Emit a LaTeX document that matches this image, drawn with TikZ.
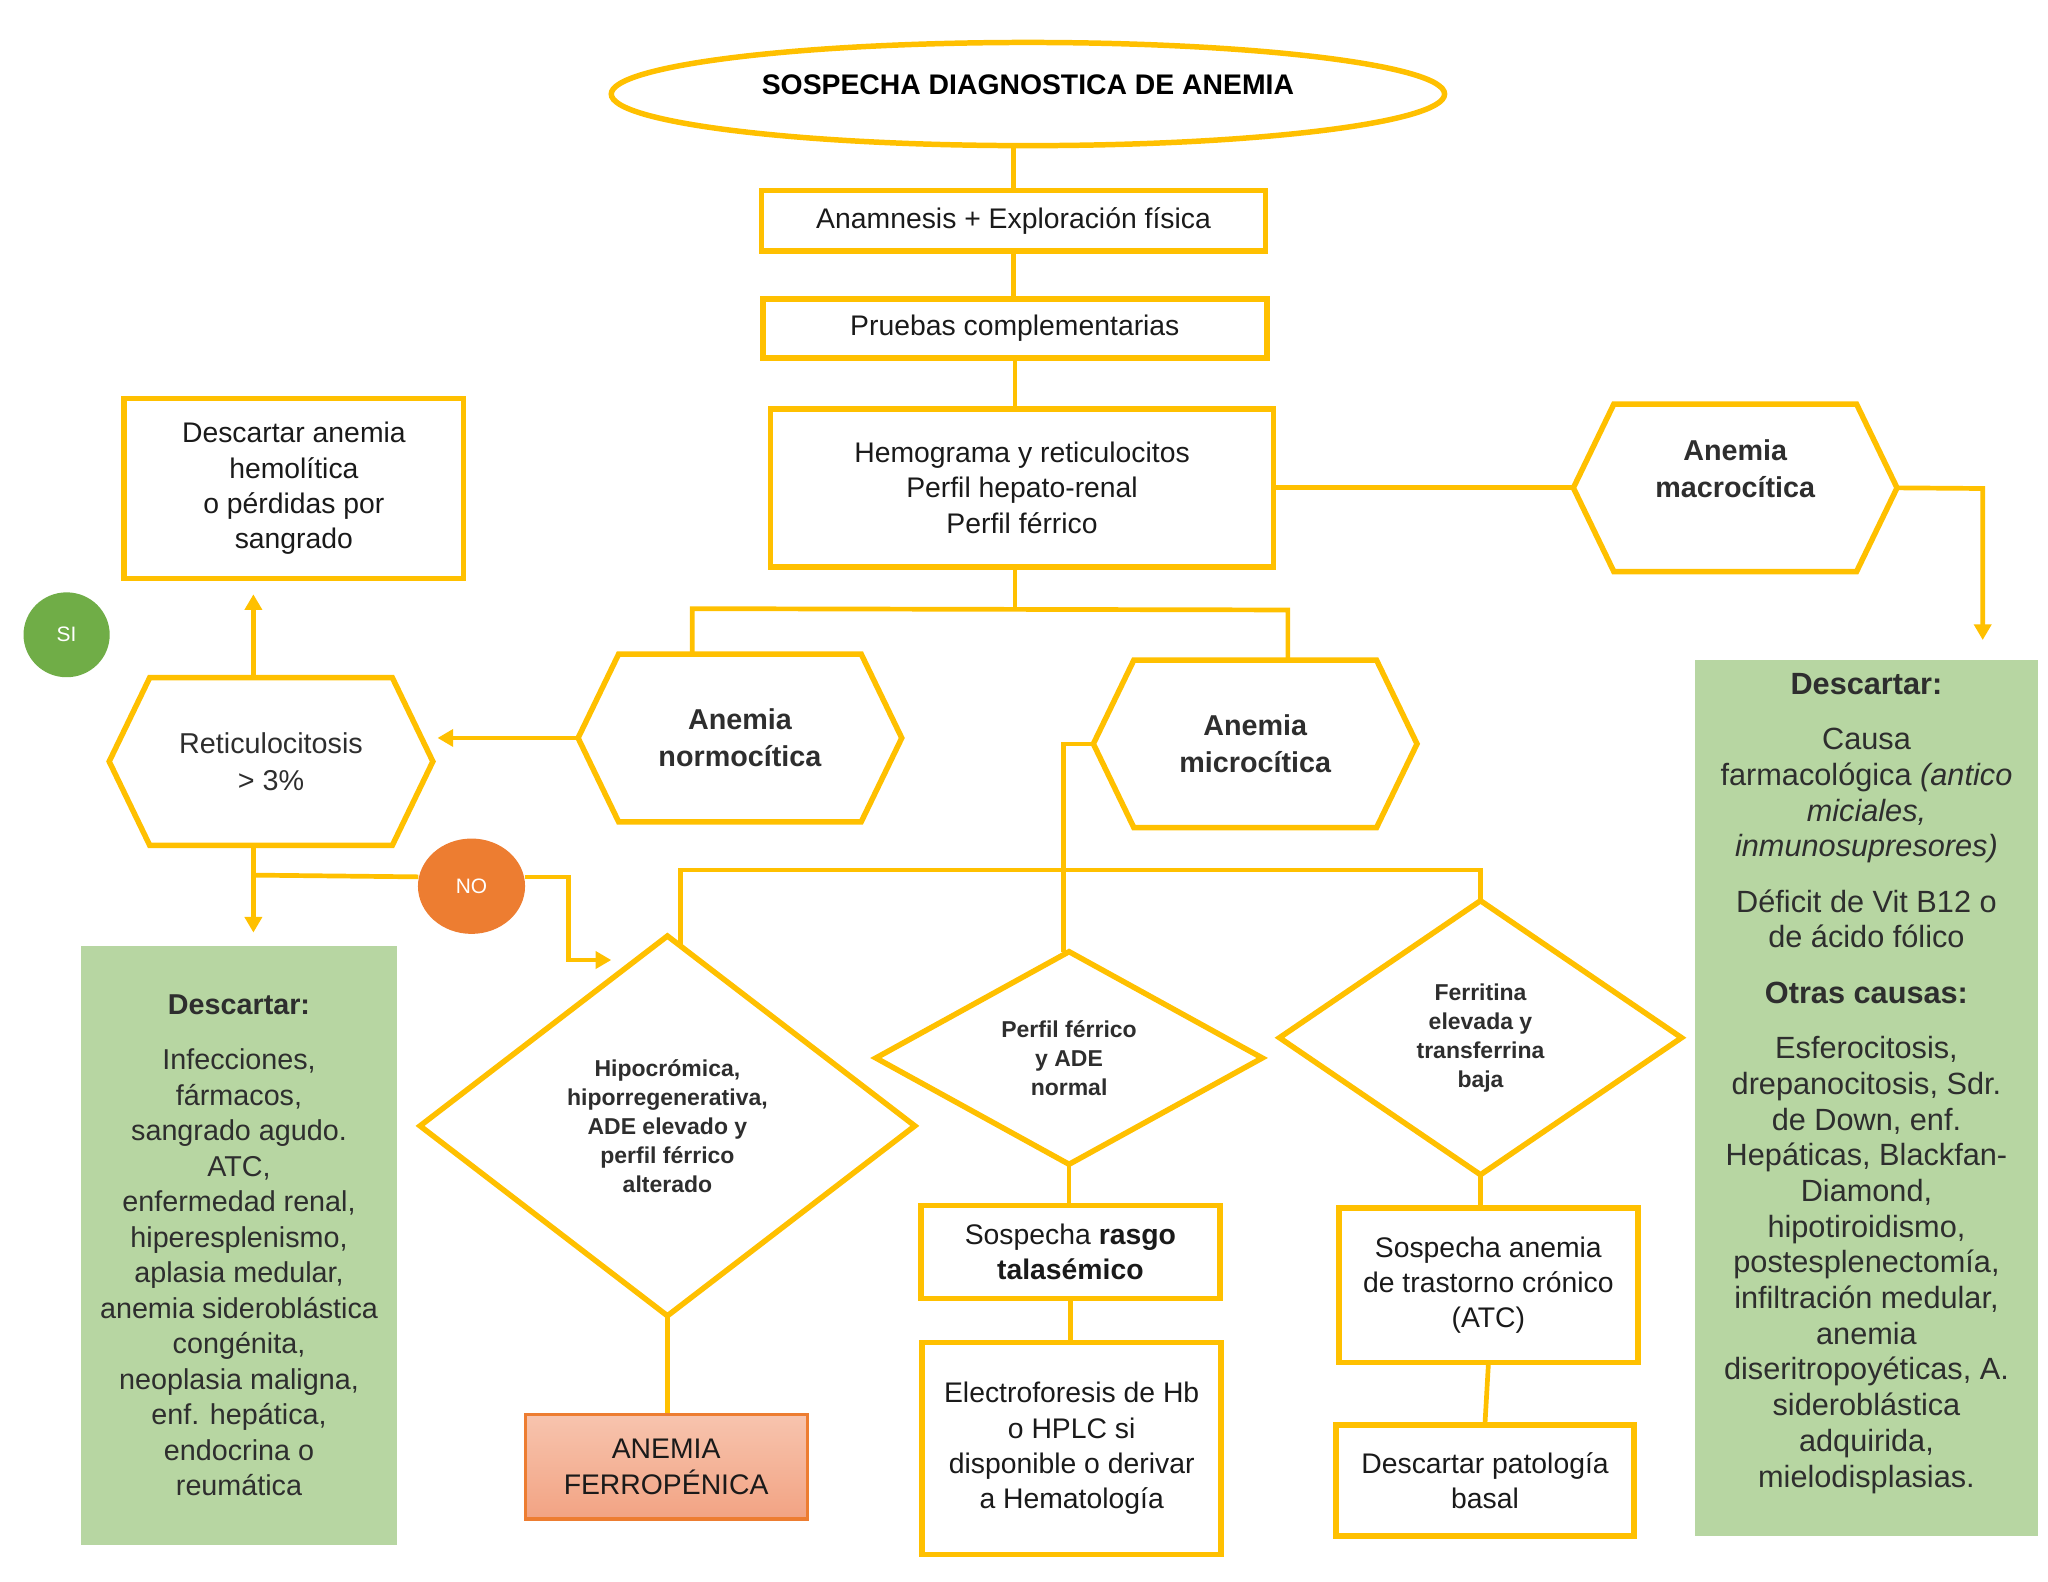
\documentclass[tikz,border=0pt]{standalone}
\usepackage{fontspec}
\setmainfont{Liberation Sans}
\usetikzlibrary{arrows.meta,calc,shapes.geometric}
\definecolor{gold}{HTML}{FFC000}
\definecolor{sigreen}{HTML}{70AD47}
\definecolor{noorange}{HTML}{ED7D31}
\definecolor{boxgreen}{HTML}{B7D6A2}
\definecolor{salmtop}{HTML}{F7C4AE}
\definecolor{salmbot}{HTML}{F2A383}
\definecolor{txtdark}{HTML}{1A1A1A}
\definecolor{txtgray}{HTML}{2E2E2E}
\newcommand{\fmain}{\fontsize{10.85pt}{13.5pt}\selectfont}
\newcommand{\fhex}{\fontsize{11pt}{14pt}\selectfont\bfseries}
\newcommand{\fdia}{\fontsize{8.8pt}{11.1pt}\selectfont\bfseries}
\newcommand{\fgl}{\fontsize{11pt}{13.58pt}\selectfont}
\newcommand{\fgr}{\fontsize{11.75pt}{13.67pt}\selectfont}
\newcommand{\fcirc}{\fontsize{8pt}{9pt}\selectfont}
\begin{document}
\begin{tikzpicture}[x=0.5pt,y=-0.5pt,
 conn/.style={draw=gold,line width=1.8pt},
 arr/.style={conn,-{Triangle[width=6.5pt,length=6pt]}},
 box/.style={draw=gold,line width=2.1pt,rectangle,inner sep=0pt,align=center,font=\fmain,text=txtdark},
 shapebox/.style={rectangle,inner sep=0pt,align=center},
 hexn/.style={shapebox,font=\fhex,text=txtgray,minimum width=123.5pt,minimum height=63.75pt},
 dian/.style={shapebox,font=\fdia,text=txtgray},
 hexline/.style={draw=gold,line width=2.1pt},
 greenbox/.style={rectangle,fill=boxgreen,inner sep=0pt,align=center,text=txtgray},
 circ/.style={ellipse,inner sep=0pt,text=white,font=\fcirc}
]
\useasboundingbox (0,0) rectangle (1568,1211);

% top chain
\node[ellipse,draw=gold,line width=2.1pt,minimum width=319pt,minimum height=39.5pt,inner sep=0pt,
  label={[font=\fmain\bfseries,text=black,yshift=3.5pt]center:SOSPECHA DIAGNOSTICA DE ANEMIA}] (ell) at (787,72) {};
\node[box,minimum width=193pt,minimum height=23pt] (anam) at (776,169) {Anamnesis + Exploración física};
\node[box,minimum width=193pt,minimum height=22.5pt] (prueb) at (777,251.5) {Pruebas complementarias};
\node[box,minimum width=192.5pt,minimum height=60.5pt] (hemo) at (782.5,373.5) {Hemograma y reticulocitos\\Perfil hepato-renal\\Perfil férrico};
\node[box,minimum width=130pt,minimum height=69pt] (desch) at (225,374) {Descartar anemia\\hemolítica\\o pérdidas por\\sangrado};

% hexagons
\node[hexn] (reti) at (207.5,583) {\mdseries Reticulocitosis\\\mdseries > 3\%};
\node[hexn] (normo) at (566.5,565) {Anemia\\normocítica};
\node[hexn] (micro) at (961,569.5) {Anemia\\microcítica};
\node[hexn,label={[font=\fhex,text=txtgray,align=center,yshift=7.25pt]center:Anemia\\macrocítica}] (macro) at (1328.5,373.5) {};
\foreach \n in {reti,normo,micro,macro}{
  \draw[hexline] (\n.west) -- ($(\n.north west)+(31,0)$) -- ($(\n.north east)+(-31,0)$) -- (\n.east)
    -- ($(\n.south east)+(-31,0)$) -- ($(\n.south west)+(31,0)$) -- cycle;
}

% circles
\node[circ,fill=sigreen,minimum width=33pt,minimum height=32.5pt] (si) at (51,486) {SI};
\node[circ,fill=noorange,minimum width=41pt,minimum height=36.5pt] (no) at (361,678.5) {NO};

% diamonds
\node[dian,minimum width=189pt,minimum height=145pt] (hipo) at (511,862) {Hipocrómica,\\hiporregenerativa,\\ADE elevado y\\perfil férrico\\alterado};
\node[dian,minimum width=147.5pt,minimum height=81pt] (perfil) at (818.5,810) {Perfil férrico\\y ADE\\normal};
\node[dian,minimum width=153.5pt,minimum height=104.5pt] (ferr) at (1133.5,794.5) {Ferritina\\elevada y\\transferrina\\baja};
\foreach \n in {hipo,perfil,ferr}{
  \draw[hexline] (\n.north) -- (\n.east) -- (\n.south) -- (\n.west) -- cycle;
}

% bottom boxes
\node[rectangle,draw=noorange,line width=1.2pt,top color=salmtop,bottom color=salmbot,inner sep=0pt,align=center,
  font=\fmain,text=txtdark,minimum width=108pt,minimum height=40pt] (ferro) at (510,1123) {ANEMIA\\FERROPÉNICA};
\node[box,minimum width=114.5pt,minimum height=35.5pt] (talas) at (819.5,958.5) {Sospecha \textbf{rasgo}\\\textbf{talasémico}};
\node[box,minimum width=114.5pt,minimum height=81pt] (electro) at (820.5,1109) {Electroforesis de Hb\\o HPLC si\\disponible o derivar\\a Hematología};
\node[box,minimum width=114.5pt,minimum height=59pt] (atc) at (1139.5,984) {Sospecha anemia\\de trastorno crónico\\(ATC)};
\node[box,minimum width=114pt,minimum height=42.5pt] (basal) at (1137,1133.5) {Descartar patología\\basal};

% green boxes
\node[greenbox,font=\fgl,minimum width=121pt,minimum height=229.5pt] (gleft) at (183,953.5)
 {\textbf{Descartar:}\\[7.5pt]Infecciones,\\fármacos,\\sangrado agudo.\\ATC,\\enfermedad renal,\\hiperesplenismo,\\aplasia medular,\\anemia sideroblástica\\congénita,\\neoplasia maligna,\\enf. hepática,\\endocrina o\\reumática};
\node[greenbox,minimum width=131pt,minimum height=335.5pt,
 label={[font=\fgr,text=txtgray,align=center,yshift=5.5pt]center:{\textbf{Descartar:}\\[7.5pt]Causa\\farmacológica \textit{(antico}\\\textit{miciales,}\\\textit{inmunosupresores)}\\[7.5pt]Déficit de Vit B12 o\\de ácido fólico\\[7.5pt]\textbf{Otras causas:}\\[7.5pt]Esferocitosis,\\drepanocitosis, Sdr.\\de Down, enf.\\Hepáticas, Blackfan-\\Diamond,\\hipotiroidismo,\\postesplenectomía,\\infiltración medular,\\anemia\\diseritropoyéticas, A.\\sideroblástica\\adquirida,\\mielodisplasias.}}] (gright) at (1429,840.5) {};

% coordinates for free ends / bends
\coordinate (bL) at (530,466);
\coordinate (bR) at (986,467);
\coordinate (siArr) at (194,455);
\coordinate (downArr) at (194,714);
\coordinate (j1) at (194,670);
\coordinate (noX) at (435,0);
\coordinate (hipoArr) at (468,735);
\coordinate (normoArr) at (335,565);
\coordinate (mX) at (814,0);
\coordinate (hL) at (521,666);
\coordinate (hR) at (1133.5,666);
\coordinate (hipoTop) at (521,725);
\coordinate (macroX) at (1518,374);
\coordinate (macroArr) at (1518,490);

% connectors
\draw[conn] (anam.north) -- (anam.north |- ell.south);
\draw[conn] (anam.south) -- (anam.south |- prueb.north);
\draw[conn] (prueb.south) -- (prueb.south |- hemo.north);
\draw[conn] (prueb.south |- hemo.south) -- (prueb.south |- bL);
\draw[conn] (bL |- normo.north) -- (bL) -- (bR) -- (bR |- micro.north);
\draw[conn] (hemo.east) -- (macro.west);
\draw[arr] (macro.east) -- (macroX) -- (macroArr);
\draw[arr] (normo.west) -- (normoArr);
\draw[arr] (siArr |- reti.north) -- (siArr);
\draw[arr] (downArr |- reti.south) -- (downArr);
\draw[conn] (j1) -- (no.170);
\draw[arr] (no.10) -- (no.10 -| noX) -- (noX |- hipoArr) -- (hipoArr);
\draw[conn] (micro.west) -- (micro.west -| mX) -- (mX |- perfil.north);
\draw[conn] (hipoTop) -- (hL) -- (hR) -- (ferr.north);
\draw[conn] (hipo.south) -- (hipo.south |- ferro.north);
\draw[conn] (perfil.south) -- (perfil.south |- talas.north);
\draw[conn] (talas.south) -- (talas.south |- electro.north);
\draw[conn] (ferr.south) -- (ferr.south |- atc.north);
\draw[conn] (atc.south) -- (basal.north);
\end{tikzpicture}
\end{document}
